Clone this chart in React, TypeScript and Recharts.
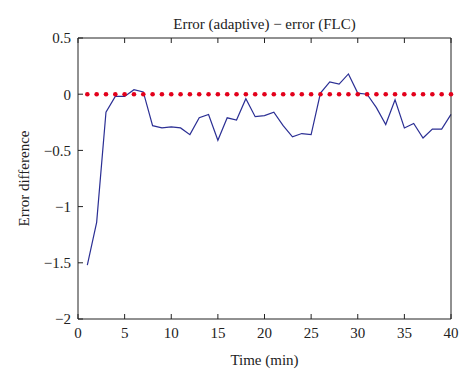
import React from 'react';
import { LineChart, Line, XAxis, YAxis, Label } from 'recharts';

const times = Array.from({ length: 40 }, (_, i) => i + 1);
const errorDiff = [
  -1.52, -1.14, -0.16, -0.02, -0.02, 0.04, 0.02, -0.28, -0.30, -0.29,
  -0.30, -0.36, -0.21, -0.18, -0.41, -0.21, -0.23, -0.04, -0.20, -0.19,
  -0.16, -0.28, -0.38, -0.35, -0.36, 0.01, 0.11, 0.09, 0.18, 0.01,
  0.00, -0.12, -0.27, -0.05, -0.30, -0.26, -0.39, -0.31, -0.31, -0.18,
];
const zeroRef = times.map(() => 0);
const xTicks = [0, 5, 10, 15, 20, 25, 30, 35, 40];
const yTicks = [-2, -1.5, -1, -0.5, 0, 0.5];

const data = times.map((t, i) => ({ t, diff: errorDiff[i], zero: zeroRef[i] }));

const FONT = '"Liberation Serif", "Times New Roman", serif';
const fmtY = (v: number) => String(v).replace('-', '\u2212');
const blank = () => '';
const txt = { fill: '#222', fontSize: 15, fontFamily: FONT };

export default function App() {
  return (
    <div style={{ position: 'absolute', left: 0, top: 0, background: '#fff' }}>
      <LineChart width={474} height={381} data={data} margin={{ top: 37, right: 22, bottom: 0, left: 0 }}>
        <XAxis
          dataKey="t"
          type="number"
          domain={[0, 40]}
          ticks={xTicks}
          interval={0}
          height={62}
          stroke="#222"
          tickSize={-5}
          tickMargin={13}
          tick={txt}
        >
          <Label value="Time (min)" position="insideBottom" offset={16} style={txt} />
        </XAxis>
        <XAxis
          xAxisId="top"
          dataKey="t"
          type="number"
          orientation="top"
          domain={[0, 40]}
          ticks={xTicks}
          interval={0}
          height={1}
          stroke="#222"
          tickSize={-5}
          tickFormatter={blank}
          tick={{ fontSize: 1 }}
        />
        <YAxis
          type="number"
          domain={[-2, 0.5]}
          ticks={yTicks}
          interval={0}
          width={78}
          stroke="#222"
          tickSize={-5}
          tickMargin={12}
          tickFormatter={fmtY}
          tick={txt}
        >
          <Label value="Error difference" angle={-90} position="insideLeft" offset={24} style={{ ...txt, textAnchor: 'middle' }} />
        </YAxis>
        <YAxis
          yAxisId="right"
          orientation="right"
          type="number"
          domain={[-2, 0.5]}
          ticks={yTicks}
          interval={0}
          width={1}
          stroke="#222"
          tickSize={-5}
          tickFormatter={blank}
          tick={{ fontSize: 1 }}
        />
        <Line
          dataKey="zero"
          stroke="none"
          isAnimationActive={false}
          dot={{ r: 2.3, fill: '#e3001b', stroke: 'none' }}
        />
        <Line
          dataKey="diff"
          stroke="#2b2f94"
          strokeWidth={1.2}
          dot={false}
          isAnimationActive={false}
        />
      </LineChart>
      <div
        style={{
          position: 'absolute',
          left: 78,
          width: 373,
          top: 15,
          textAlign: 'center',
          fontFamily: FONT,
          fontSize: 15,
          color: '#222',
          lineHeight: '18px',
        }}
      >
        Error (adaptive) − error (FLC)
      </div>
    </div>
  );
}
